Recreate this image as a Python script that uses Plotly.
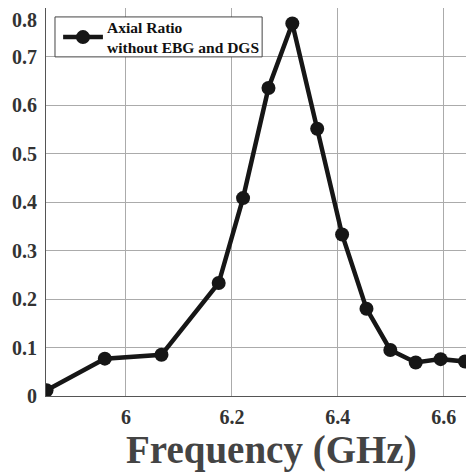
import plotly.graph_objects as go

# frequency points (GHz) and axial ratio values
freq = [5.850, 5.960, 6.067, 6.175, 6.221, 6.269, 6.314, 6.361, 6.408,
        6.454, 6.499, 6.547, 6.594, 6.640, 6.686]
axial_ratio = [0.012, 0.077, 0.085, 0.233, 0.408, 0.635, 0.768, 0.551, 0.333,
               0.180, 0.095, 0.069, 0.076, 0.071, 0.062]

x_ticks = [6.0, 6.2, 6.4, 6.6]
x_ticktext = ["6", "6.2", "6.4", "6.6"]
y_ticks = [0, 0.1, 0.2, 0.3, 0.4, 0.5, 0.6, 0.7]
y_ticktext = ["0", "0.1", "0.2", "0.3", "0.4", "0.5", "0.6", "0.7"]
y_top_label = "0.8"

legend_text = "Axial Ratio<br>without EBG and DGS"

serif = "Liberation Serif"
ink = "#161616"
grid = "#ababab"
tick_font = dict(family=serif, size=20, color="#333", weight="bold")

fig = go.Figure()
fig.add_trace(go.Scatter(
    x=freq, y=axial_ratio, mode="lines+markers",
    line=dict(color=ink, width=4.5),
    marker=dict(color=ink, size=14),
    showlegend=False,
))

# the page body has an 8px margin, so the margins are trimmed to match
fig.update_layout(
    width=474, height=474,
    margin=dict(l=38, r=8, t=0, b=86),
    paper_bgcolor="white", plot_bgcolor="white",
    font=dict(family=serif),
)

fig.update_xaxes(
    range=[5.849, 6.657], tickvals=x_ticks, ticktext=x_ticktext,
    showgrid=True, gridcolor=grid, gridwidth=1,
    showline=True, linecolor="#555", linewidth=1.2, mirror=True,
    ticks="", zeroline=False, automargin=False, ticklabelstandoff=3,
    tickfont=tick_font,
)
fig.update_yaxes(
    range=[0, 0.8], tickvals=y_ticks, ticktext=y_ticktext,
    showgrid=True, gridcolor=grid, gridwidth=1,
    showline=True, linecolor="#555", linewidth=1.2,
    ticks="", zeroline=False, ticklabelstandoff=4, automargin=False,
    tickfont=tick_font,
)

# top tick label sits against the page edge, keep it inside the figure
fig.add_annotation(
    text=y_top_label, xref="paper", yref="paper",
    x=-0.0187, y=1.0, xanchor="right", yanchor="top", showarrow=False,
    font=tick_font, borderpad=0,
)

# legend drawn by hand so the box is as tight as in the original
fig.add_shape(type="rect", xref="paper", yref="paper",
              x0=0.021, x1=0.505, y0=0.874, y1=0.977,
              line=dict(color="#444", width=1), fillcolor="white", layer="above")
fig.add_shape(type="line", xref="paper", yref="paper",
              x0=0.040, x1=0.133, y0=0.925, y1=0.925,
              line=dict(color=ink, width=4.5), layer="above")
fig.add_shape(type="circle", xref="paper", yref="paper",
              x0=0.0864 - 0.0164, x1=0.0864 + 0.0164,
              y0=0.925 - 0.018, y1=0.925 + 0.018,
              line=dict(color=ink, width=0), fillcolor=ink, layer="above")
fig.add_annotation(
    text=legend_text, xref="paper", yref="paper",
    x=0.138, y=0.925, xanchor="left", yanchor="middle", align="left",
    showarrow=False,
    font=dict(family=serif, size=15.5, color="#111", weight="bold"),
)

# x-axis title
fig.add_annotation(
    text="Frequency (GHz)", xref="paper", yref="paper",
    x=0.528, y=-0.139, xanchor="center", yanchor="middle", showarrow=False,
    font=dict(family=serif, size=39, color="#444", weight="bold"),
)

fig.write_html("out.html")
